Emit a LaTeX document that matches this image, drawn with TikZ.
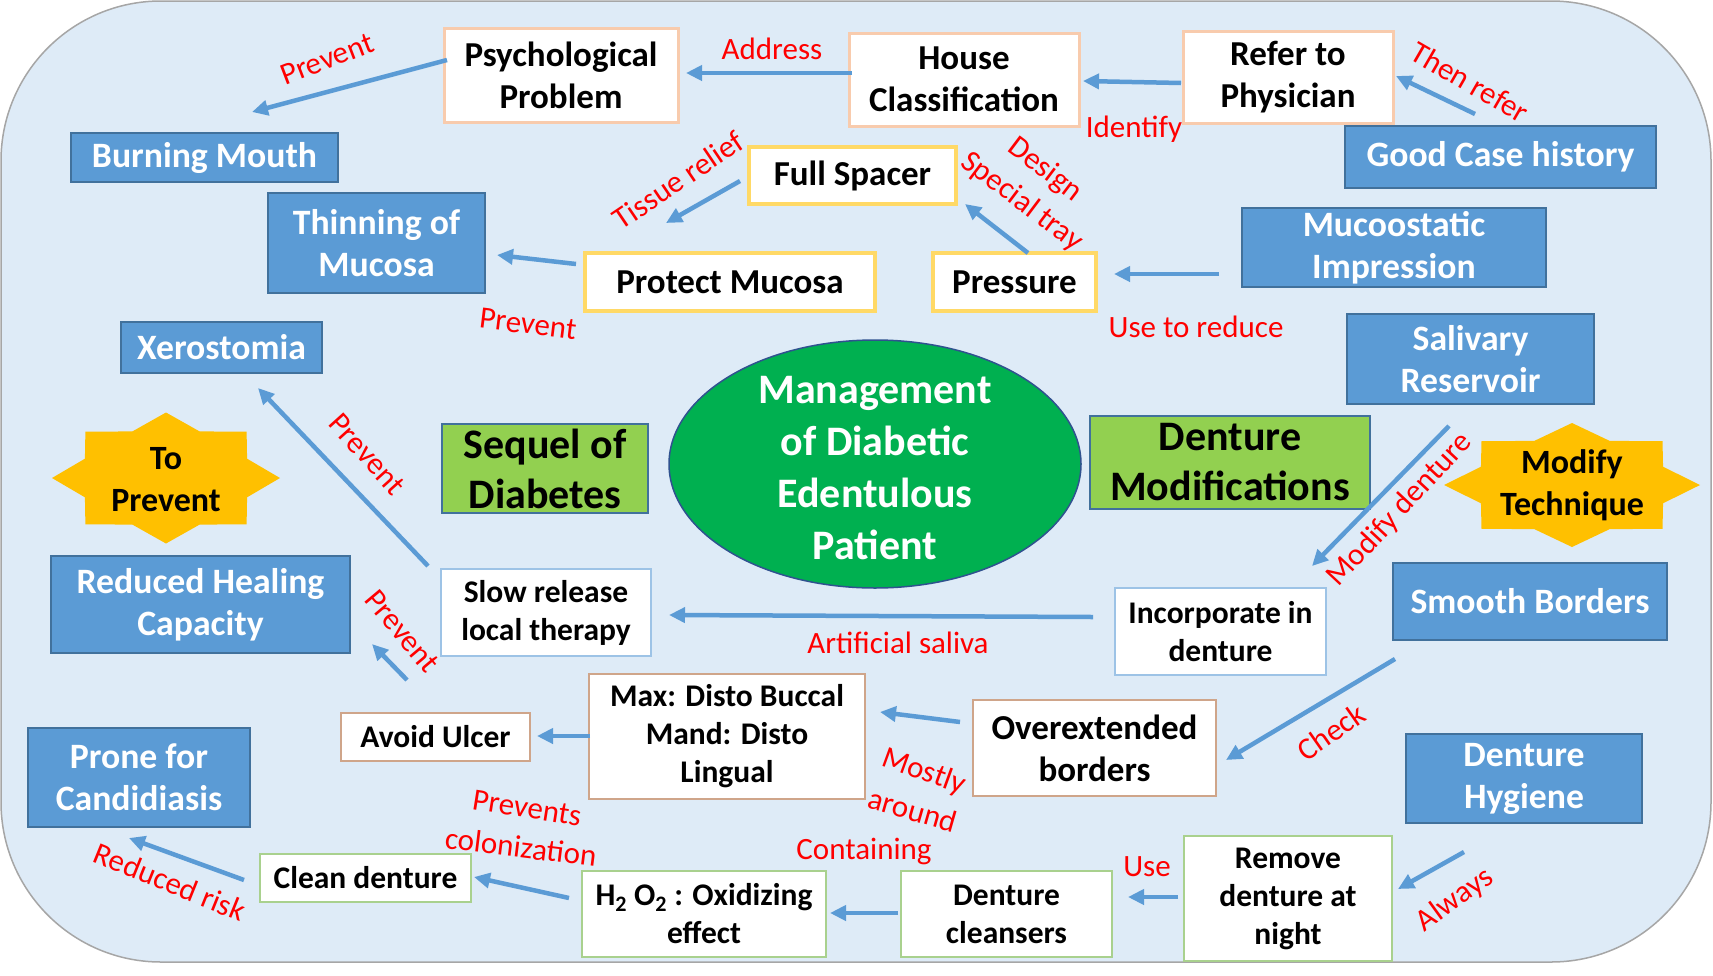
\documentclass[tikz,border=0pt]{standalone}
\usepackage{fontspec}
\setmainfont{Carlito}
\usetikzlibrary{arrows.meta,shapes.geometric}
\definecolor{bgblue}{HTML}{DEEBF7}
\definecolor{bgedge}{HTML}{A6A6A6}
\definecolor{boxblue}{HTML}{5B9BD5}
\definecolor{boxblueD}{HTML}{41719C}
\definecolor{lgreen}{HTML}{92D050}
\definecolor{dgreen}{HTML}{00B050}
\definecolor{ellD}{HTML}{2F528F}
\definecolor{starY}{HTML}{FFC000}
\definecolor{peach}{HTML}{F8CBAD}
\definecolor{yedge}{HTML}{FFD966}
\definecolor{ledge}{HTML}{9DC3E6}
\definecolor{tanedge}{HTML}{CFA58A}
\definecolor{gedge}{HTML}{A9D18E}
\definecolor{arrblue}{HTML}{5B9BD5}
\definecolor{lblred}{HTML}{FF0000}
\tikzset{
  basebox/.style={rectangle, inner sep=0pt, align=center},
  bluebox/.style={basebox, fill=boxblue, draw=boxblueD, line width=1.5pt, text=white, font=\bfseries\fontsize{35.7}{42}\selectfont},
  greenbox/.style={basebox, fill=lgreen, draw=boxblueD, line width=1.5pt, text=black, font=\bfseries\fontsize{42}{50}\selectfont},
  peachbox/.style={basebox, fill=white, draw=peach, line width=3pt, font=\bfseries\fontsize{35}{42}\selectfont},
  yellowbox/.style={basebox, fill=white, draw=yedge, line width=3.5pt, font=\bfseries\fontsize{35}{42}\selectfont},
  lbluebox/.style={basebox, fill=white, draw=ledge, line width=2pt, font=\bfseries\fontsize{31.5}{38}\selectfont},
  tanbox/.style={basebox, fill=white, draw=tanedge, line width=2pt, font=\bfseries\fontsize{31.5}{38}\selectfont},
  gbox/.style={basebox, fill=white, draw=gedge, line width=2pt, font=\bfseries\fontsize{31.5}{38}\selectfont},
  startext/.style={inner sep=0pt, align=center, font=\bfseries\fontsize{34}{42}\selectfont},
  lbl/.style={inner sep=0pt, text=lblred, font=\fontsize{31}{36}\selectfont},
  arr/.style={draw=arrblue, line width=4.5pt, -{Triangle[length=16pt,width=15pt]}},
}
\begin{document}
\begin{tikzpicture}[x=1pt,y=-1pt]
\useasboundingbox (0,0) rectangle (1713,975);
\fill[white] (0,0) rectangle (1713,975);
\draw[fill=bgblue, draw=bgedge, line width=1.5pt, rounded corners=160pt] (1,1) rectangle (1711,962);

% stars
\begin{scope}[shift={(166,478)}, xscale=114, yscale=65.5]
\fill[starY] (0:1) \foreach \k in {1,...,15} { -- ({\k*22.5}:{1-0.23*mod(\k,2)}) } -- cycle;
\end{scope}
\begin{scope}[shift={(1572,485)}, xscale=128, yscale=62]
\fill[starY] (0:1) \foreach \k in {1,...,15} { -- ({\k*22.5}:{1-0.23*mod(\k,2)}) } -- cycle;
\end{scope}
\node[startext] (toprev) at (166,480) {To\\Prevent};
\node[startext] (modtech) at (1572,485) {Modify\\Technique};

% centre ellipse
\node[ellipse, fill=dgreen, draw=ellD, line width=1.5pt, minimum width=412pt, minimum height=248pt, inner sep=0pt] (mgmt) at (875,464) {};
\node[inner sep=0pt, align=center, text=white, font=\bfseries\fontsize{42}{52}\selectfont] (mgmttext) at (875,468) {Management\\of Diabetic\\Edentulous\\Patient};

% blue boxes
\node[bluebox, minimum width=267pt, minimum height=49pt] (burn) at (204.5,157.5) {Burning Mouth};
\node[bluebox, minimum width=217pt, minimum height=100pt] (thin) at (376.5,243) {Thinning of\\Mucosa};
\node[bluebox, minimum width=201pt, minimum height=51pt] (xero) at (221.5,347.5) {Xerostomia};
\node[bluebox, minimum width=299pt, minimum height=97pt] (heal) at (200.5,604.5) {Reduced Healing\\Capacity};
\node[bluebox, minimum width=222pt, minimum height=99pt] (cand) at (139,777.5) {Prone for\\Candidiasis};
\node[bluebox, minimum width=311pt, minimum height=62pt] (gcase) at (1500.5,157) {Good Case history};
\node[bluebox, minimum width=304pt, minimum height=79pt] (muco) at (1394,247.5) {Mucoostatic\\Impression};
\node[bluebox, minimum width=247pt, minimum height=90pt] (saliv) at (1470.5,359) {Salivary\\Reservoir};
\node[bluebox, minimum width=274pt, minimum height=77pt] (smooth) at (1530,601.5) {Smooth Borders};
\node[bluebox, minimum width=236pt, minimum height=89pt] (hyg) at (1524,778.5) {Denture\\Hygiene};

% green boxes
\node[greenbox, minimum width=206pt, minimum height=89pt] (sequel) at (545,468.5) {Sequel of\\Diabetes};
\node[greenbox, minimum width=280pt, minimum height=93pt] (dmod) at (1230,462.5) {Denture\\Modifications};

% peach boxes
\node[peachbox, minimum width=234pt, minimum height=94pt] (psych) at (561,75) {Psychological\\Problem};
\node[peachbox, minimum width=230pt, minimum height=93pt] (house) at (964,79.5) {House\\Classification};
\node[peachbox, minimum width=210pt, minimum height=92pt] (refer) at (1288,77) {Refer to\\Physician};

% yellow boxes
\node[yellowbox, minimum width=207pt, minimum height=57pt] (spacer) at (852.5,175.5) {Full Spacer};
\node[yellowbox, minimum width=290pt, minimum height=58pt] (protect) at (730,282) {Protect Mucosa};
\node[yellowbox, minimum width=163pt, minimum height=58pt] (press) at (1014.5,282) {Pressure};

% light blue edged boxes
\node[lbluebox, minimum width=210pt, minimum height=87pt] (slow) at (546,612.5) {Slow release\\local therapy};
\node[lbluebox, minimum width=211pt, minimum height=87pt] (incorp) at (1220.5,631.5) {Incorporate in\\denture};

% tan edged boxes
\node[tanbox, minimum width=189pt, minimum height=48pt] (ulcer) at (435.5,736.5) {Avoid Ulcer};
\node[tanbox, minimum width=276pt, minimum height=125pt] (maxd) at (727,736.5) {Max: Disto Buccal\\Mand: Disto\\Lingual};
\node[tanbox, minimum width=243pt, minimum height=96pt, font=\bfseries\fontsize{35}{42}\selectfont] (overx) at (1094.5,748) {Overextended\\borders};

% green edged boxes
\node[gbox, minimum width=211pt, minimum height=48pt] (clean) at (365.5,878) {Clean denture};
\node[gbox, minimum width=244pt, minimum height=86pt] (hoo) at (704,914) {H\textsubscript{2} O\textsubscript{2} : Oxidizing\\effect};
\node[gbox, minimum width=211pt, minimum height=86pt] (cleans) at (1006.5,914) {Denture\\cleansers};
\node[gbox, minimum width=208pt, minimum height=125pt] (remove) at (1288,898.5) {Remove\\denture at\\night};

% arrow end points
\coordinate (a1s) at (447,60);   \coordinate (a1e) at (252,112);
\coordinate (a2s) at (852,73);   \coordinate (a2e) at (686,73);
\coordinate (a3s) at (1181,83);  \coordinate (a3e) at (1083,81);
\coordinate (a4s) at (1475,114); \coordinate (a4e) at (1396,76);
\coordinate (a5s) at (740,181);  \coordinate (a5e) at (666,223);
\coordinate (a6s) at (576,264);  \coordinate (a6e) at (497,255);
\coordinate (a7s) at (1028,253); \coordinate (a7e) at (965,204);
\coordinate (a8s) at (1219,274); \coordinate (a8e) at (1114,274);
\coordinate (a9s) at (428,566);  \coordinate (a9e) at (258,388);
\coordinate (a10s) at (407,680); \coordinate (a10e) at (372,644);
\coordinate (a11s) at (1093,617); \coordinate (a11e) at (669,615);
\coordinate (a12s) at (1449,426); \coordinate (a12e) at (1312,566);
\coordinate (a13s) at (590,736); \coordinate (a13e) at (537,736);
\coordinate (a14s) at (960,722); \coordinate (a14e) at (880,712);
\coordinate (a15s) at (1395,659); \coordinate (a15e) at (1226,760);
\coordinate (a16s) at (1464,852); \coordinate (a16e) at (1398,889);
\coordinate (a17s) at (1178,897); \coordinate (a17e) at (1128,897);
\coordinate (a18s) at (898,913); \coordinate (a18e) at (830,913);
\coordinate (a19s) at (569,898); \coordinate (a19e) at (474,877);
\coordinate (a20s) at (244,880); \coordinate (a20e) at (129,838);

\foreach \i in {1,...,20} { \draw[arr] (a\i s) -- (a\i e); }

% labels
\node[lbl, rotate=21] (l1) at (327,59) {Prevent};
\node[lbl] (l2) at (772,49) {Address};
\node[lbl] (l3) at (1134,129) {Identify};
\node[lbl, rotate=-30] (l4) at (1470,82) {Then refer};
\node[lbl, rotate=34] (l5) at (678,180) {Tissue relief};
\node[lbl, rotate=-7] (l6) at (528,324) {Prevent};
\node[lbl, rotate=-37] (l7a) at (1045,170) {Design};
\node[lbl, rotate=-37] (l7b) at (1022,202) {Special tray};
\node[lbl] (l8) at (1196,327) {Use to reduce};
\node[lbl, rotate=-48] (l9) at (367,454) {Prevent};
\node[lbl, rotate=-50] (l10) at (402,631) {Prevent};
\node[lbl] (l11) at (898,643) {Artificial saliva};
\node[lbl, rotate=47] (l12) at (1400,510) {Modify denture};
\node[lbl, rotate=-20] (l14a) at (924,772) {Mostly};
\node[lbl, rotate=-16] (l14b) at (913,810) {around};
\node[lbl, rotate=35] (l15) at (1331,732) {Check};
\node[lbl, rotate=36] (l16) at (1455,900) {Always};
\node[lbl] (l17) at (1147,867) {Use};
\node[lbl] (l18) at (864,851) {Containing};
\node[lbl, rotate=-9] (l19a) at (527,808) {Prevents};
\node[lbl, rotate=-7] (l19b) at (521,847) {colonization};
\node[lbl, rotate=-22] (l20) at (170,882) {Reduced risk};
\end{tikzpicture}
\end{document}
